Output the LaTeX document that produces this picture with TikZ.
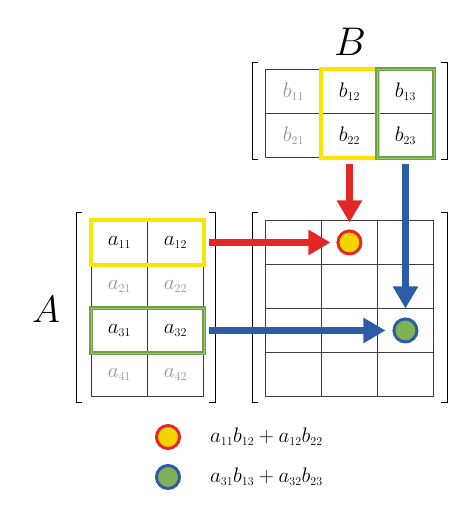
\RequirePackage{fix-cm}
\documentclass[tikz,border=0pt]{standalone}
\usetikzlibrary{arrows.meta,fit,calc}
\DeclareMathSizes{21}{21}{12}{9}
\definecolor{myred}{RGB}{228,38,38}
\definecolor{myblue}{RGB}{44,92,166}
\definecolor{myyellow}{RGB}{246,212,0}
\definecolor{boxyellow}{RGB}{250,228,0}
\definecolor{mygreen}{RGB}{128,178,88}
\definecolor{boxgreen}{RGB}{112,160,72}
\definecolor{boxgreenin}{RGB}{150,200,110}
\definecolor{gridgray}{RGB}{60,60,60}
\definecolor{fadetext}{RGB}{150,150,150}
\begin{document}
\begin{tikzpicture}[x=1pt,y=-1pt,
  cell/.style={draw=gridgray, line width=0.9pt, minimum width=56pt, minimum height=44pt,
    inner sep=0pt, anchor=north west, font=\fontsize{21}{24}\selectfont},
  faded/.style={cell, text=fadetext},
  ybox/.style={draw=boxyellow, line width=3.5pt, inner sep=0pt, outer sep=0pt},
  gbox/.style={draw=boxgreen, line width=3.5pt, inner sep=0pt, outer sep=0pt,
    postaction={draw=boxgreenin, line width=0.8pt}},
  brk/.style={line width=0.8pt, black},
  bigarrow/.style={line width=7.5pt, -{Triangle[length=22pt,width=24pt]}},
  dot/.style={circle, line width=3pt, minimum size=23pt, inner sep=0pt},
  legtext/.style={anchor=west, inner sep=0pt, font=\fontsize{21}{24}\selectfont},
]
\useasboundingbox (0,0) rectangle (474,512);

% matrix B
\node[faded] (b11) at (265,69) {$b_{11}$};
\node[cell]  (b12) at (321,69) {$b_{12}$};
\node[cell]  (b13) at (377,69) {$b_{13}$};
\node[faded] (b21) at (265,113) {$b_{21}$};
\node[cell]  (b22) at (321,113) {$b_{22}$};
\node[cell]  (b23) at (377,113) {$b_{23}$};

% matrix A
\node[cell]  (a11) at (91,220) {$a_{11}$};
\node[cell]  (a12) at (147,220) {$a_{12}$};
\node[faded] (a21) at (91,264) {$a_{21}$};
\node[faded] (a22) at (147,264) {$a_{22}$};
\node[cell]  (a31) at (91,308) {$a_{31}$};
\node[cell]  (a32) at (147,308) {$a_{32}$};
\node[faded] (a41) at (91,352) {$a_{41}$};
\node[faded] (a42) at (147,352) {$a_{42}$};

% matrix C
\foreach \r/\y in {1/220,2/264,3/308,4/352}{
  \foreach \c/\x in {1/265,2/321,3/377}{
    \node[cell] (c\r\c) at (\x,\y) {};
  }
}

% highlight boxes
\node[ybox, fit=(b12)(b22)] (by) {};
\node[gbox, fit=(b13)(b23)] (bg) {};
\node[ybox, fit=(a11)(a12)] (ay) {};
\node[gbox, fit=(a31)(a32)] (ag) {};

% brackets
\draw[brk] (258,62) -- (252,62) -- (252,159) -- (258,159);
\draw[brk] (441,62) -- (447,62) -- (447,159) -- (441,159);
\draw[brk] (82,212) -- (76,212) -- (76,402) -- (82,402);
\draw[brk] (209,212) -- (215,212) -- (215,402) -- (209,402);
\draw[brk] (258,212) -- (252,212) -- (252,402) -- (258,402);
\draw[brk] (441,212) -- (447,212) -- (447,402) -- (441,402);

% labels
\node[font=\fontsize{40}{44}\selectfont] (labB) at (350,42) {$B$};
\node[font=\fontsize{38}{42}\selectfont] (labA) at (46,310) {$A$};

% result dots
\node[dot, draw=myred, fill=myyellow] (rdot) at (c12.center) {};
\node[dot, draw=myblue, fill=mygreen] (gdot) at (c33.center) {};

% arrows
\draw[bigarrow, myred, shorten <=5pt, shorten >=6pt] (ay.east) -- (rdot.west);
\draw[bigarrow, myred, shorten <=6pt, shorten >=7pt] (by.south) -- (by.south |- rdot.north);
\draw[bigarrow, myblue, shorten <=5pt, shorten >=7pt] (ag.east) -- (gdot.west);
\draw[bigarrow, myblue, shorten <=6pt, shorten >=9pt] (bg.south) -- (bg.south |- gdot.north);

% legend
\node[dot, draw=myred, fill=myyellow] (l1) at (168,437) {};
\node[dot, draw=myblue, fill=mygreen] (l2) at (168,477) {};
\node[legtext] (t1) at (210,437) {$a_{11}b_{12}+a_{12}b_{22}$};
\node[legtext] (t2) at (210,477) {$a_{31}b_{13}+a_{32}b_{23}$};
\end{tikzpicture}
\end{document}
